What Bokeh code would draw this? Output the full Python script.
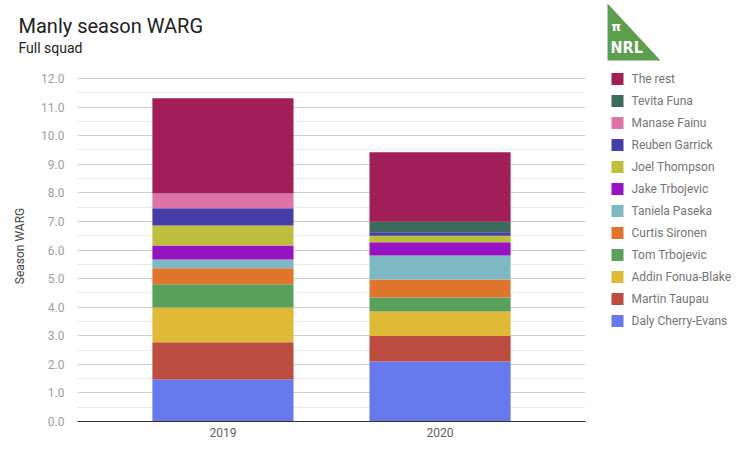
from bokeh.plotting import figure
from bokeh.models import (FactorRange, Range1d, SingleIntervalTicker, NumeralTickFormatter,
                          ColumnDataSource)
from bokeh.layouts import row, column
from bokeh.core.properties import value
from bokeh.embed import file_html
from bokeh.resources import INLINE

# ---------------- data ----------------
seasons = ["2019", "2020"]
players = ["Daly Cherry-Evans", "Martin Taupau", "Addin Fonua-Blake", "Tom Trbojevic",
           "Curtis Sironen", "Taniela Paseka", "Jake Trbojevic", "Joel Thompson",
           "Reuben Garrick", "Manase Fainu", "Tevita Funa", "The rest"]
warg_2019 = [1.47, 1.30, 1.22, 0.81, 0.56, 0.31, 0.49, 0.70, 0.60, 0.52, 0.00, 3.33]
warg_2020 = [2.10, 0.89, 0.86, 0.49, 0.63, 0.84, 0.46, 0.23, 0.12, 0.00, 0.37, 2.43]
colors = ["#6779ec", "#bd4c40", "#e0b937", "#58a05c", "#e0762c", "#7eb9c3",
          "#9613c1", "#bfbf3e", "#463ea8", "#dc74a8", "#3b6b5c", "#a21e59"]
title_text = "Manly season WARG"
subtitle_text = "Full squad"
y_axis_title = "Season WARG"
y_max = 12.0
y_ticks_interval = 1.0

FONT = "Roboto"

data = {"season": seasons}
for name, a, b in zip(players, warg_2019, warg_2020):
    data[name] = [a, b]
source = ColumnDataSource(data)

# ---------------- header: title, subtitle, logo ----------------
h = figure(width=743, height=70, output_backend="svg", toolbar_location=None,
           x_range=Range1d(0, 743), y_range=Range1d(70, 0), title=None, min_border=0)
h.axis.visible = False
h.grid.visible = False
h.outline_line_color = None
h.text([18], [25], text=[title_text], text_font=value(FONT), text_font_size="20px",
       text_color="#212121", text_baseline="alphabetic")
h.text([18], [47], text=[subtitle_text], text_font=value(FONT), text_font_size="14px",
       text_color="#212121", text_baseline="alphabetic")
h.patch([607, 607, 660], [3, 60, 60], color="#5a9e4e", line_color=None)
h.text([611], [26], text=["π"], text_font=value("DejaVu Sans"), text_font_size="12px",
       text_color="white", text_baseline="alphabetic", text_font_style="bold")
h.text([610], [47], text=["NRL"], text_font=value("DejaVu Sans Condensed"),
       text_font_size="16px", text_color="white", text_baseline="alphabetic",
       text_font_style="bold")

# ---------------- main chart ----------------
# frame spans canvas y 70..421; the 12.0 gridline lands at y=78
frame_h = 351
px_per_unit = 343 / y_max
p = figure(width=600, height=381, output_backend="svg", toolbar_location=None,
           x_range=FactorRange(factors=seasons, range_padding=0.17,
                               range_padding_units="absolute"),
           y_range=Range1d(0, frame_h / px_per_unit), title=None,
           min_border_left=77, min_border_right=15, min_border_top=0,
           min_border_bottom=30)
p.outline_line_color = None

p.vbar_stack(players, x="season", width=0.65, source=source, color=colors,
             line_color=None)

p.yaxis.ticker = SingleIntervalTicker(interval=y_ticks_interval, num_minor_ticks=2)
p.yaxis.formatter = NumeralTickFormatter(format="0.0")
p.yaxis.axis_line_color = None
p.yaxis.major_tick_line_color = None
p.yaxis.minor_tick_line_color = None
p.yaxis.major_label_text_font = FONT
p.yaxis.major_label_text_font_size = "12px"
p.yaxis.major_label_text_color = "#9e9e9e"
p.yaxis.major_label_standoff = 7
p.yaxis.axis_label = y_axis_title
p.yaxis.axis_label_text_font = FONT
p.yaxis.axis_label_text_font_size = "12px"
p.yaxis.axis_label_text_font_style = "normal"
p.yaxis.axis_label_text_color = "#444444"
p.yaxis.axis_label_standoff = 11

p.ygrid.grid_line_color = "#cccccc"
p.ygrid.minor_grid_line_color = "#ebebeb"
p.xgrid.grid_line_color = None

p.xaxis.axis_line_color = "#333333"
p.xaxis.major_tick_line_color = None
p.xaxis.minor_tick_line_color = None
p.xaxis.major_label_text_font = FONT
p.xaxis.major_label_text_font_size = "12px"
p.xaxis.major_label_text_color = "#616161"
p.xaxis.major_label_standoff = 0

# ---------------- side: legend (canvas-pixel coordinates) ----------------
s = figure(width=143, height=381, output_backend="svg", toolbar_location=None,
           x_range=Range1d(600, 743), y_range=Range1d(421, 70), title=None,
           min_border_left=0, min_border_right=0, min_border_top=0,
           min_border_bottom=30)
s.axis.visible = False
s.grid.visible = False
s.outline_line_color = None

leg_names = players[::-1]
leg_colors = colors[::-1]
leg_y = [78.5 + 22 * i for i in range(len(leg_names))]
s.scatter([617] * len(leg_names), leg_y, marker="square", size=12, color=leg_colors,
          line_color=None)
s.text([631] * len(leg_names), leg_y, text=leg_names, text_font=value(FONT),
       text_font_size="12px", text_color="#757575", text_baseline="middle")

layout = column(h, row(p, s))
open("out.html", "w").write(file_html(layout, INLINE))
